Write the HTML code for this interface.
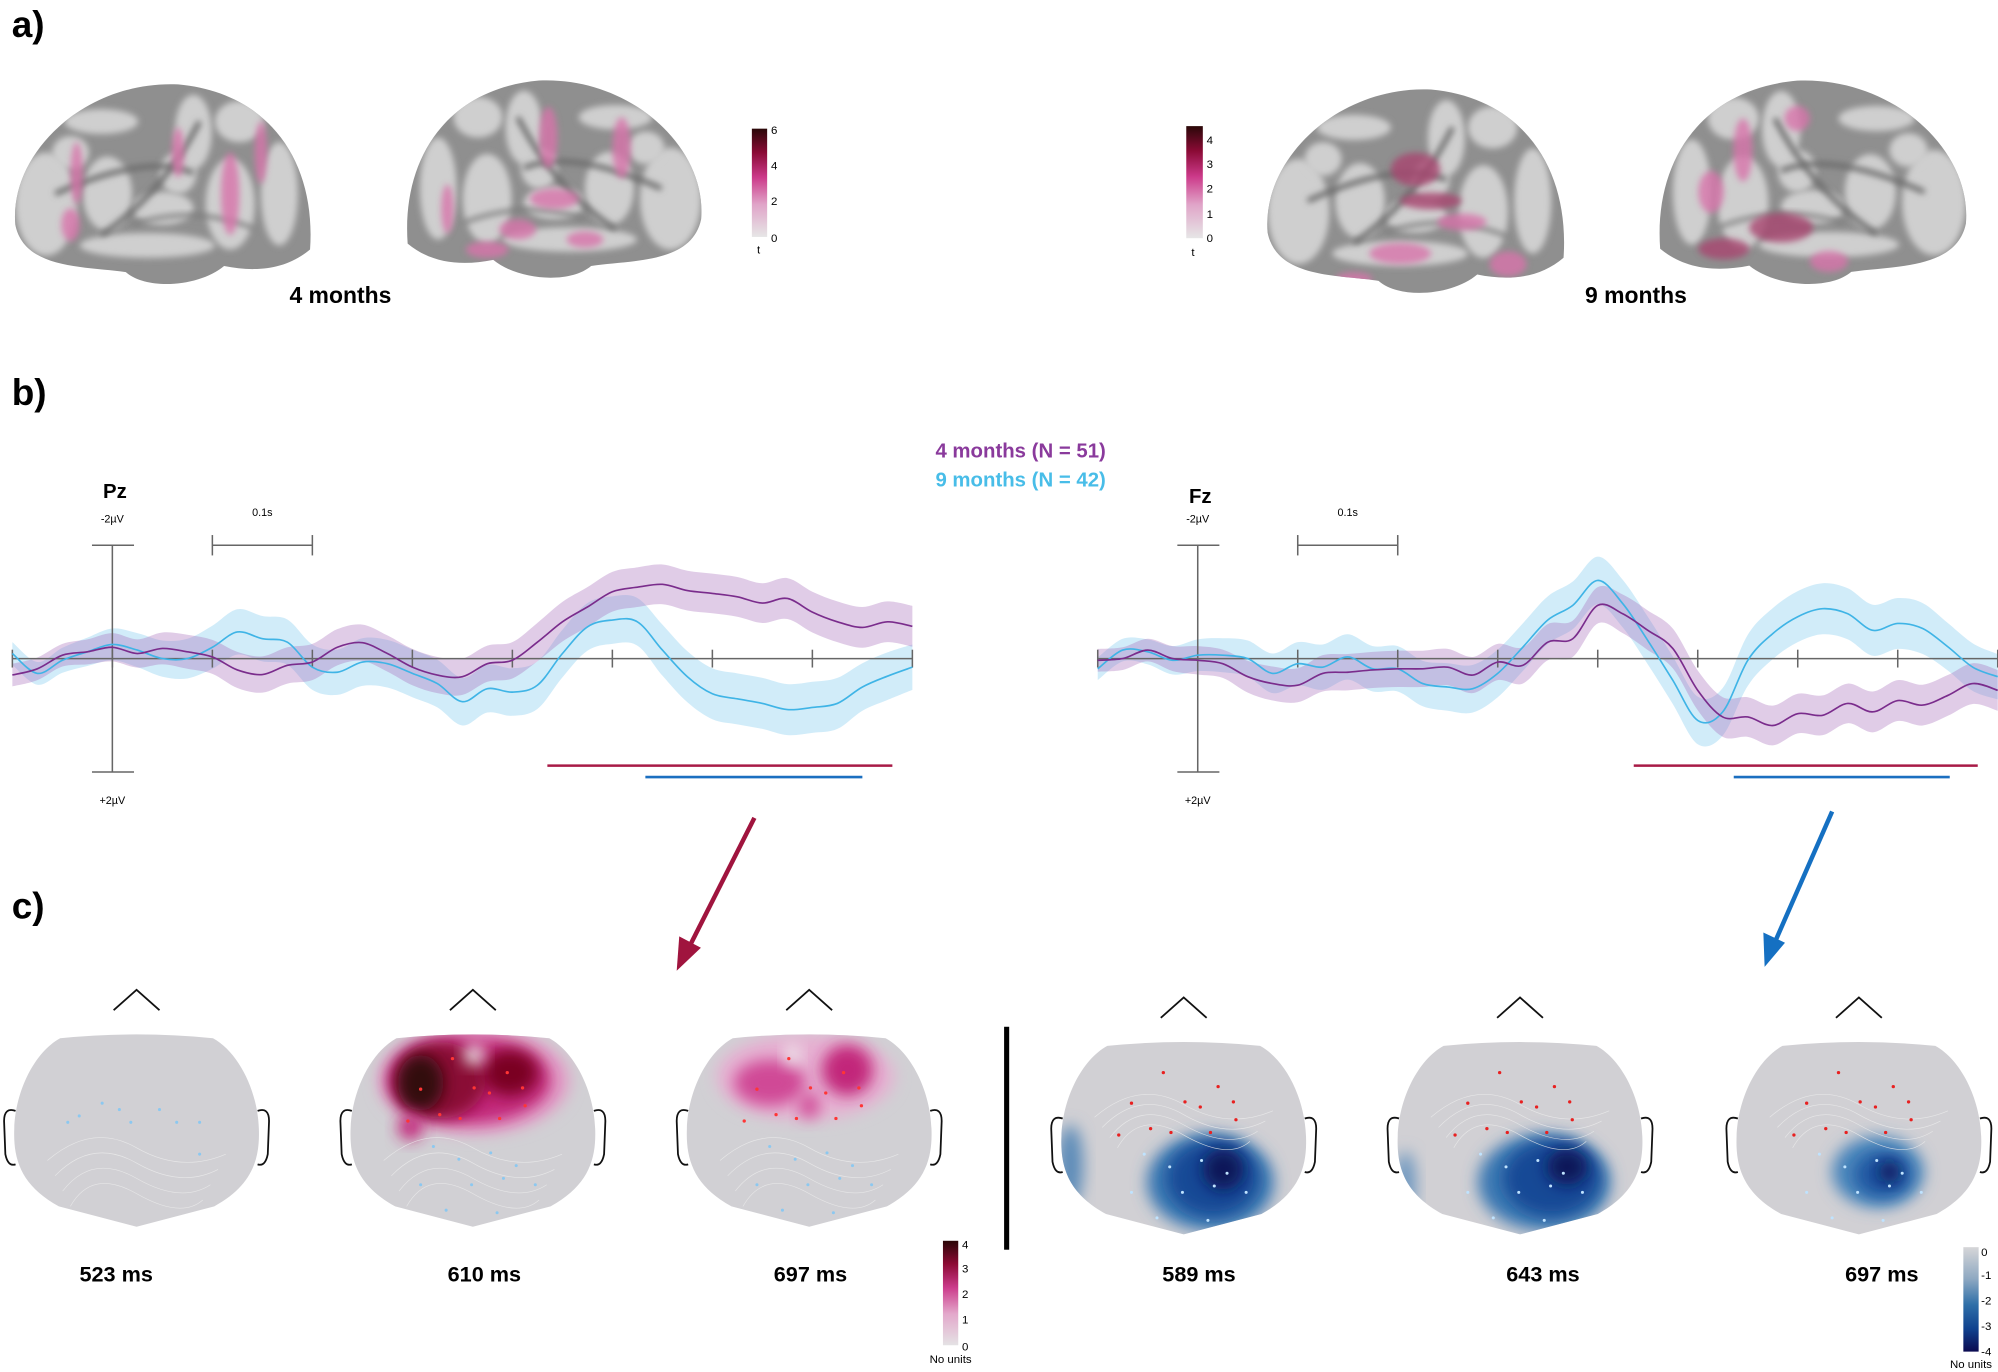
<!DOCTYPE html>
<html><head><meta charset="utf-8"><style>
html,body{margin:0;padding:0;background:#fff;}
svg{display:block;font-family:"Liberation Sans",Arial,sans-serif;}
</style></head><body>
<svg id="fig" xmlns="http://www.w3.org/2000/svg" width="1998" height="1372" viewBox="0 0 1568 1077">
<defs>
<filter id="blur6" x="-50%" y="-50%" width="200%" height="200%"><feGaussianBlur stdDeviation="6"/></filter>
<filter id="blur3" x="-50%" y="-50%" width="200%" height="200%"><feGaussianBlur stdDeviation="2.5"/></filter>
<linearGradient id="gBrain" x1="0" y1="1" x2="0" y2="0">
<stop offset="0" stop-color="#e6e6e6"/><stop offset="0.3" stop-color="#e0a4c8"/><stop offset="0.55" stop-color="#cc3a8a"/><stop offset="0.78" stop-color="#8a0a35"/><stop offset="1" stop-color="#2a0808"/></linearGradient>
<linearGradient id="gRed" x1="0" y1="1" x2="0" y2="0">
<stop offset="0" stop-color="#e4e2e4"/><stop offset="0.3" stop-color="#e3a8cb"/><stop offset="0.55" stop-color="#cc3c8c"/><stop offset="0.78" stop-color="#8c0a34"/><stop offset="1" stop-color="#2a0606"/></linearGradient>
<linearGradient id="gBlue" x1="0" y1="0" x2="0" y2="1">
<stop offset="0" stop-color="#d6d6d8"/><stop offset="0.3" stop-color="#8fa9c2"/><stop offset="0.55" stop-color="#2f6fa8"/><stop offset="0.78" stop-color="#10428f"/><stop offset="1" stop-color="#0b0a50"/></linearGradient>
</defs>

<text x="9" y="29" font-size="29" font-weight="bold">a)</text>
<text x="9" y="318" font-size="29" font-weight="bold">b)</text>
<text x="9" y="721" font-size="29" font-weight="bold">c)</text>

<g id="brains"></g>

<g font-size="9">
<rect x="590" y="101" width="12" height="85" fill="url(#gBrain)"/>
<text x="605" y="105">6</text><text x="605" y="133">4</text><text x="605" y="161">2</text><text x="605" y="190">0</text>
<text x="594" y="199">t</text>
</g>
<g font-size="9">
<rect x="931" y="99" width="13" height="88" fill="url(#gBrain)"/>
<text x="947" y="113">4</text><text x="947" y="132">3</text><text x="947" y="151">2</text><text x="947" y="171">1</text><text x="947" y="190">0</text>
<text x="935" y="201">t</text>
</g>
<text x="267" y="238" font-size="18" font-weight="bold" text-anchor="middle">4 months</text>
<text x="1284" y="238" font-size="18" font-weight="bold" text-anchor="middle">9 months</text>

<text x="801" y="359" font-size="16" font-weight="bold" fill="#8a3a9c" text-anchor="middle">4 months (N = 51)</text>
<text x="801" y="382" font-size="16" font-weight="bold" fill="#48bde8" text-anchor="middle">9 months (N = 42)</text>

<g id="erp"></g>

<g>
<line x1="592" y1="642" x2="540" y2="745" stroke="#a0143e" stroke-width="3.5"/>
<polygon points="531,762 533,735 550,744" fill="#a0143e"/>
</g>
<g>
<line x1="1438" y1="637" x2="1392" y2="742" stroke="#1570c2" stroke-width="3.5"/>
<polygon points="1385,759 1384,732 1401,740" fill="#1570c2"/>
</g>

<g id="heads"></g>

<rect x="788" y="806" width="4" height="175" fill="#000"/>

<g font-size="9">
<rect x="740" y="974" width="12" height="82" fill="url(#gRed)"/>
<text x="755" y="980">4</text><text x="755" y="999">3</text><text x="755" y="1019">2</text><text x="755" y="1039">1</text><text x="755" y="1060">0</text>
<text x="746" y="1070" text-anchor="middle">No units</text>
</g>
<g font-size="9">
<rect x="1541" y="979" width="12" height="82" fill="url(#gBlue)"/>
<text x="1555" y="986">0</text><text x="1555" y="1004">-1</text><text x="1555" y="1024">-2</text><text x="1555" y="1044">-3</text><text x="1555" y="1064">-4</text>
<text x="1547" y="1074" text-anchor="middle">No units</text>
</g>
</svg>
<script>
var times = [-100,-75,-50,-25,0,25,50,75,100,125,150,175,200,225,250,275,300,325,350,375,400,425,450,475,500,525,550,575,600,625,650,675,700,725,750,775,800];
var pz4m = [0.29,0.18,-0.06,-0.12,-0.2,-0.09,-0.18,-0.12,-0.03,0.2,0.28,0.12,0.06,-0.2,-0.28,-0.09,0.15,0.29,0.32,0.09,0.03,-0.29,-0.65,-0.91,-1.18,-1.26,-1.31,-1.2,-1.15,-1.09,-0.98,-1.06,-0.82,-0.65,-0.55,-0.65,-0.57];
var pz9m = [-0.09,0.26,0.03,-0.12,-0.25,-0.15,0,0,-0.2,-0.47,-0.35,-0.29,0.15,0.24,0.06,0.09,0.26,0.44,0.76,0.53,0.59,0.47,-0.09,-0.56,-0.68,-0.65,-0.15,0.32,0.62,0.71,0.79,0.9,0.86,0.79,0.5,0.31,0.15];
var fz4m = [0.03,0,-0.15,0,0.03,0.09,0.32,0.44,0.47,0.26,0.24,0.2,0.18,0.18,0.15,0.29,0.06,0.12,-0.29,-0.35,-0.94,-0.79,-0.5,-0.18,0.56,1.03,1.03,1.18,0.97,1.0,0.79,0.94,0.74,0.82,0.65,0.44,0.56];
var fz9m = [0.18,-0.15,-0.12,0.03,-0.06,-0.06,0,0.26,0.09,0.15,-0.03,0.18,0.18,0.44,0.5,0.53,0.26,-0.2,-0.68,-0.94,-1.38,-0.97,-0.32,0.38,1.09,0.94,0.03,-0.44,-0.74,-0.88,-0.79,-0.5,-0.62,-0.53,-0.21,0.15,0.32];
var sem4m = [0.2,0.2,0.2,0.22,0.25,0.25,0.28,0.3,0.3,0.32,0.32,0.32,0.32,0.32,0.32,0.32,0.32,0.32,0.32,0.32,0.32,0.34,0.35,0.35,0.35,0.35,0.35,0.35,0.35,0.35,0.35,0.36,0.36,0.36,0.36,0.36,0.36];
var sem9m = [0.2,0.2,0.22,0.25,0.28,0.3,0.32,0.35,0.38,0.4,0.4,0.4,0.4,0.4,0.42,0.42,0.42,0.42,0.42,0.42,0.42,0.42,0.42,0.42,0.42,0.42,0.45,0.45,0.45,0.45,0.45,0.45,0.45,0.45,0.42,0.42,0.4];
var xTicks = [-100,0,100,200,300,400,500,600,700,800];
var yTickLabels = ["-2\u00b5V","+2\u00b5V"];
var sigPz = [[435,780],[533,750]];
var sigFz = [[436,780],[536,752]];

var NS = "http://www.w3.org/2000/svg";
function mk(tag, attrs, parent){var e=document.createElementNS(NS,tag);for(var k in attrs)e.setAttribute(k,attrs[k]);if(parent)parent.appendChild(e);return e;}
function smoothPath(pts, move){
  var d = (move?"M":"L")+pts[0][0].toFixed(1)+","+pts[0][1].toFixed(1);
  for(var i=0;i<pts.length-1;i++){
    var p0=pts[i-1]||pts[i],p1=pts[i],p2=pts[i+1],p3=pts[i+2]||p2;
    d+=" C"+(p1[0]+(p2[0]-p0[0])/6).toFixed(1)+","+(p1[1]+(p2[1]-p0[1])/6).toFixed(1)+" "+(p2[0]-(p3[0]-p1[0])/6).toFixed(1)+","+(p2[1]-(p3[1]-p1[1])/6).toFixed(1)+" "+p2[0].toFixed(1)+","+p2[1].toFixed(1);
  }
  return d;
}
var erp = document.getElementById('erp');
function drawPanel(x0, name, s4, s9, sig, lblY){
  var g = mk('g',{},erp);
  
  
  var y0 = 517, pxPerMs = 0.785, pxPerUv = 44.5;
  function X(t){return x0 + t*pxPerMs;}
  function Y(v){return y0 + v*pxPerUv;}
  function band(vals, sem, fill, nm){
    var up = vals.map(function(v,i){return [X(times[i]),Y(v-sem[i])];});
    var lo = vals.map(function(v,i){return [X(times[i]),Y(v+sem[i])];}).reverse();
    var p = mk('path',{d:smoothPath(up,true)+" "+smoothPath(lo,false)+" Z",fill:fill},g);
    
    
  }
  function line(vals, col, nm){
    var pts = vals.map(function(v,i){return [X(times[i]),Y(v)];});
    var p = mk('path',{d:smoothPath(pts,true),fill:'none',stroke:col,'stroke-width':1.3},g);
    
    
  }
  band(s9, sem9m, 'rgba(135,205,240,0.38)', name+'-9-months-ci');
  band(s4, sem4m, 'rgba(165,110,185,0.35)', name+'-4-months-ci');
  var ax = mk('g',{stroke:'#666','stroke-width':1.2},g);
  
  
  mk('line',{x1:X(-100),y1:y0,x2:X(800),y2:y0},ax);
  xTicks.forEach(function(t){
    var tk = mk('line',{x1:X(t),y1:y0-7,x2:X(t),y2:y0+7},ax);
    
    
  });
  mk('line',{x1:X(0),y1:Y(-2),x2:X(0),y2:Y(2)},ax);
  mk('line',{x1:X(0)-16,y1:Y(-2),x2:X(0)+17,y2:Y(-2)},ax);
  mk('line',{x1:X(0)-16,y1:Y(2),x2:X(0)+17,y2:Y(2)},ax);
  mk('line',{x1:X(100),y1:Y(-2),x2:X(200),y2:Y(-2)},ax);
  mk('line',{x1:X(100),y1:Y(-2)-8,x2:X(100),y2:Y(-2)+8},ax);
  mk('line',{x1:X(200),y1:Y(-2)-8,x2:X(200),y2:Y(-2)+8},ax);
  line(s9, '#3fb4e6', name+'-9-months-line');
  line(s4, '#7a2c8c', name+'-4-months-line');
  var t1 = mk('text',{x:X(150),y:405,'font-size':8.5,'text-anchor':'middle'},g); t1.textContent='0.1s';
  
  
  var t2 = mk('text',{x:X(0),y:410,'font-size':8.5,'text-anchor':'middle'},g); t2.textContent=yTickLabels[0];
  
  
  var t3 = mk('text',{x:X(0),y:631,'font-size':8.5,'text-anchor':'middle'},g); t3.textContent=yTickLabels[1];
  
  
  var t4 = mk('text',{x:X(0)+2,y:lblY,'font-size':16,'font-weight':'bold','text-anchor':'middle'},g); t4.textContent=name;
  
  
  var r = mk('line',{x1:X(sig[0][0]),y1:601,x2:X(sig[0][1]),y2:601,stroke:'#a81a46','stroke-width':2},g);
  
  
  var b = mk('line',{x1:X(sig[1][0]),y1:610,x2:X(sig[1][1]),y2:610,stroke:'#1b6fc0','stroke-width':2},g);
  
  
}
drawPanel(88,'Pz',pz4m,pz9m,sigPz,391);
drawPanel(940,'Fz',fz4m,fz9m,sigFz,395);

// ---------- brains ----------
var brains = document.getElementById('brains');
var brainDefs = [
 {x:7,y:63,w:241,h:162,flip:false,pink:[[0.22,0.45,0.02,0.15],[0.55,0.35,0.02,0.12],[0.72,0.55,0.03,0.2],[0.82,0.35,0.02,0.15],[0.2,0.7,0.03,0.08]],dark:false},
 {x:315,y:60,w:240,h:160,flip:true,pink:[[0.5,0.6,0.08,0.05],[0.62,0.75,0.06,0.05],[0.72,0.85,0.07,0.04],[0.28,0.35,0.03,0.15],[0.52,0.3,0.03,0.15],[0.85,0.65,0.02,0.12],[0.4,0.8,0.06,0.04]],dark:false},
 {x:990,y:67,w:242,h:165,flip:false,pink:[[0.5,0.4,0.08,0.08],[0.55,0.55,0.1,0.04],[0.45,0.8,0.1,0.05],[0.65,0.65,0.08,0.04],[0.8,0.85,0.06,0.06],[0.3,0.92,0.06,0.03]],dark:true},
 {x:1298,y:60,w:250,h:165,flip:true,pink:[[0.6,0.72,0.1,0.07],[0.78,0.82,0.08,0.05],[0.82,0.55,0.04,0.1],[0.45,0.88,0.06,0.05],[0.72,0.35,0.03,0.15],[0.55,0.2,0.04,0.06]],dark:true}
];
brainDefs.forEach(function(b,i){
  var g = mk('g',{},brains);
  
  
  var x=b.x,y=b.y,w=b.w,h=b.h;
  var d = "M"+(x+0.02*w)+","+(y+0.7*h)+" C"+(x)+","+(y+0.35*h)+" "+(x+0.25*w)+","+(y)+" "+(x+0.55*w)+","+(y+0.02*h)+" C"+(x+0.85*w)+","+(y+0.06*h)+" "+(x+w)+","+(y+0.4*h)+" "+(x+0.98*w)+","+(y+0.82*h)+" C"+(x+0.9*w)+","+(y+0.92*h)+" "+(x+0.8*w)+","+(y+0.93*h)+" "+(x+0.7*w)+","+(y+0.9*h)+" C"+(x+0.62*w)+","+(y+1.0*h)+" "+(x+0.45*w)+","+(y+1.02*h)+" "+(x+0.38*w)+","+(y+0.93*h)+" C"+(x+0.25*w)+","+(y+0.9*h)+" "+(x+0.05*w)+","+(y+0.92*h)+" "+(x+0.02*w)+","+(y+0.7*h)+" Z";
  if(b.flip){ d = d.replace(/(M|C| )([\d.]+),/g,function(m,p,v){return p+(2*x+w-parseFloat(v)).toFixed(1)+",";}); }
  var cid = 'bclip'+i;
  var cp = mk('clipPath',{id:cid},brains); mk('path',{d:d},cp);
  mk('path',{d:d,fill:'#8f8f8f'},g);
  var inner = mk('g',{'clip-path':'url(#'+cid+')'},g);
  var sx = function(f){return b.flip? x+(1-f)*w : x+f*w;};
  var gy = [[0.12,0.6,0.1,0.25],[0.32,0.55,0.08,0.18],[0.5,0.62,0.1,0.08],[0.45,0.8,0.22,0.06],[0.72,0.6,0.08,0.22],[0.88,0.55,0.06,0.25],[0.3,0.2,0.12,0.06],[0.6,0.25,0.06,0.18],[0.75,0.2,0.08,0.1],[0.2,0.35,0.06,0.08],[0.55,0.45,0.06,0.1]];
  gy.forEach(function(q){
    mk('ellipse',{cx:sx(q[0]),cy:y+q[1]*h,rx:q[2]*w,ry:q[3]*h,fill:'#cfcfcf',filter:'url(#blur3)'},inner);
  });
  mk('path',{d:"M"+sx(0.15)+","+(y+0.55*h)+" Q"+sx(0.45)+","+(y+0.35*h)+" "+sx(0.6)+","+(y+0.45*h),stroke:'#6a6a6a','stroke-width':4,fill:'none',filter:'url(#blur3)'},inner);
  mk('path',{d:"M"+sx(0.3)+","+(y+0.75*h)+" Q"+sx(0.5)+","+(y+0.55*h)+" "+sx(0.62)+","+(y+0.2*h),stroke:'#6a6a6a','stroke-width':4,fill:'none',filter:'url(#blur3)'},inner);
  mk('path',{d:"M"+sx(0.4)+","+(y+0.7*h)+" Q"+sx(0.6)+","+(y+0.6*h)+" "+sx(0.8)+","+(y+0.72*h),stroke:'#7a7a7a','stroke-width':3,fill:'none',filter:'url(#blur3)'},inner);
  b.pink.forEach(function(p,j){
    var e = mk('ellipse',{cx:sx(p[0]),cy:y+p[1]*h,rx:p[2]*w,ry:p[3]*h,fill: (b.dark&&j<2)?'#a8456f':'#d873aa',opacity:0.8,filter:'url(#blur3)'},inner);
    
    
  });
});

// ---------- topographic maps ----------
var heads = document.getElementById('heads');
var headCx = [107,371,635,929,1193,1459];
var headTop = [811,811,811,817,817,817];
var headLabels = ["523 ms","610 ms","697 ms","589 ms","643 ms","697 ms"];
var labelX = [91,380,636,941,1211,1477];
var blobs = [
 [],
 [[372,848,75,42,'#e29bc6'],[368,848,64,34,'#c2287a'],[345,848,36,30,'#8a0a35'],[330,850,18,22,'#300808'],[400,842,22,18,'#7a0022'],[322,885,10,10,'#c2287a'],[372,828,8,8,'#eeeeee']],
 [[632,845,70,34,'#e6b0d2'],[604,850,28,18,'#d04a96'],[665,840,20,20,'#c2287a'],[635,868,8,10,'#d04a96'],[622,828,6,8,'#eeeeee']],
 [[950,928,50,38,'#3b78b2'],[952,925,36,30,'#134a96'],[960,918,16,16,'#0c1458'],[840,915,10,32,'#5a8ab8']],
 [[1212,928,52,38,'#3b78b2'],[1218,925,38,30,'#134a96'],[1230,916,16,14,'#0c1458'],[1103,930,8,26,'#6a95bf']],
 [[1474,920,36,28,'#4a85bb'],[1478,922,22,18,'#1a55a0'],[1483,920,8,8,'#0c1458']]
];
var redDots = [[355,831],[372,854],[330,855],[345,875],[398,842],[410,854],[392,878],[320,880],[412,868],[384,858],[361,878]];
var blueDots = [[340,900],[360,910],[385,905],[405,915],[330,930],[370,930],[395,925],[420,930],[350,950],[390,952]];
function headPath(cx,T){
  return "M"+(cx-60)+","+(T+4)+" Q"+cx+","+(T-2)+" "+(cx+60)+","+(T+4)+" C"+(cx+80)+","+(T+15)+" "+(cx+95)+","+(T+45)+" "+(cx+96)+","+(T+75)+" C"+(cx+97)+","+(T+100)+" "+(cx+90)+","+(T+120)+" "+(cx+61)+","+(T+136)+" L"+cx+","+(T+152)+" L"+(cx-61)+","+(T+136)+" C"+(cx-90)+","+(T+120)+" "+(cx-97)+","+(T+100)+" "+(cx-96)+","+(T+75)+" C"+(cx-95)+","+(T+45)+" "+(cx-80)+","+(T+15)+" "+(cx-60)+","+(T+4)+" Z";
}
headCx.forEach(function(cx,i){
  var T = headTop[i];
  var g = mk('g',{},heads);
  
  
  var cid='hclip'+i;
  var cp = mk('clipPath',{id:cid},heads); mk('path',{d:headPath(cx,T)},cp);
  mk('path',{d:headPath(cx,T),fill:'#d1d0d4'},g);
  var inner = mk('g',{'clip-path':'url(#'+cid+')'},g);
  blobs[i].forEach(function(bl){
    var e = mk('ellipse',{cx:bl[0],cy:bl[1],rx:bl[2],ry:bl[3],fill:bl[4],filter:'url(#blur6)'},inner);
    
    
  });
  // contour lines
  for(var k=0;k<4;k++){
    var yy = (i>=3? T+40+k*8 : T+80+k*12);
    mk('path',{d:"M"+(cx-70+k*6)+","+(yy+20)+" Q"+(cx-35)+","+(yy-10)+" "+cx+","+(yy+10)+" T"+(cx+70-k*6)+","+(yy+15),stroke:'#ececec','stroke-width':0.5,fill:'none',opacity:0.8},inner);
  }
  if(i===0){
    [[-50,-10],[-30,-20],[-15,-15],[-5,-5],[20,-15],[35,-5],[55,-5],[55,20],[-60,-5]].forEach(function(p){mk('circle',{cx:cx+p[0]*0.9,cy:T+75+p[1],r:1.2,fill:'#8cc8f0'},inner);});
  }
  if(i>0){
    var col = i>=3?'#e82020':'#ff3535';
    redDots.forEach(function(p){mk('circle',{cx:p[0]-371+cx,cy:p[1]-811+T+(i>=3?5:0),r:1.3,fill:col},inner);});
    var bcol = i>=3?'#bfe3ff':'#8cc8f0';
    blueDots.forEach(function(p){mk('circle',{cx:p[0]-371+cx,cy:p[1]-811+T,r:1.2,fill:bcol},inner);});
  }
  var n = mk('path',{d:"M"+(cx-18)+","+(T-18)+" L"+cx+","+(T-34)+" L"+(cx+18)+","+(T-18),stroke:'#111','stroke-width':1.4,fill:'none'},g);
  
  
  var eyT = T+61, eyB = T+103;
  mk('path',{d:"M"+(cx-95)+","+eyT+" Q"+(cx-104)+","+(eyT-3)+" "+(cx-104)+","+(eyT+8)+" L"+(cx-103)+","+(eyB-8)+" Q"+(cx-101)+","+(eyB+2)+" "+(cx-95)+","+eyB,stroke:'#111','stroke-width':1.4,fill:'none'},g);
  mk('path',{d:"M"+(cx+95)+","+eyT+" Q"+(cx+104)+","+(eyT-3)+" "+(cx+104)+","+(eyT+8)+" L"+(cx+103)+","+(eyB-8)+" Q"+(cx+101)+","+(eyB+2)+" "+(cx+95)+","+eyB,stroke:'#111','stroke-width':1.4,fill:'none'},g);
  var t = mk('text',{x:labelX[i],y:1006,'font-size':17,'font-weight':'bold','text-anchor':'middle'},g);
  t.textContent = headLabels[i];
  
  
});
</script>
</body></html>
